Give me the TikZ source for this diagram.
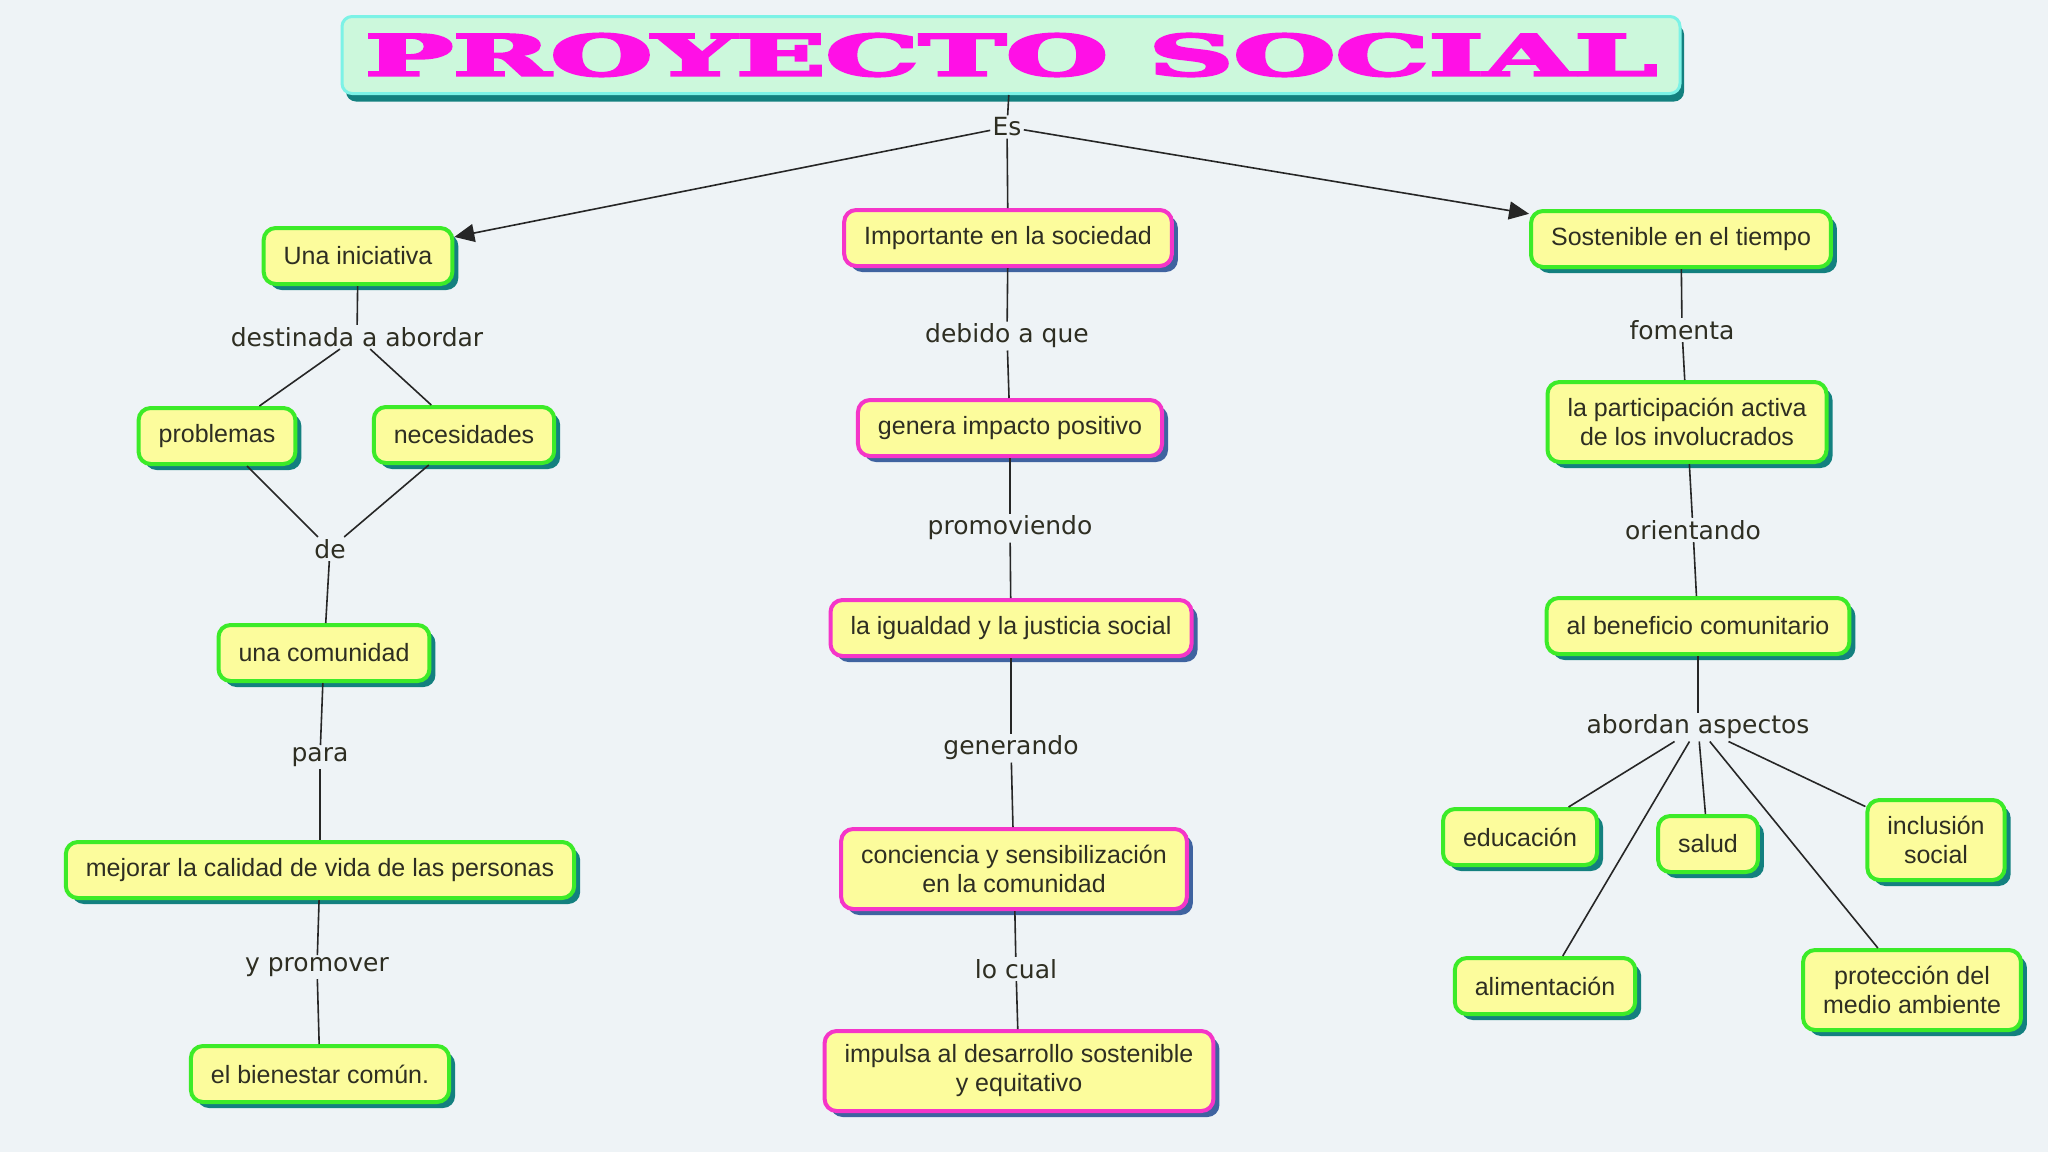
\documentclass[tikz,border=0pt]{standalone}
\usepackage{fontspec}
\usepackage{graphicx}
\usetikzlibrary{shadows,arrows.meta}
\newfontfamily\nodefont{Liberation Sans}
\newfontfamily\labelfont{DejaVu Sans}
\newfontfamily\titlefont{DejaVu Serif}[UprightFont=* Bold, FakeBold=4]
\definecolor{page-bg}{HTML}{EEF3F6}
\definecolor{box-fill}{HTML}{FCFC9C}
\definecolor{box-green}{HTML}{3CEB28}
\definecolor{box-pink}{HTML}{F535C8}
\definecolor{shade-teal}{HTML}{13807F}
\definecolor{shade-blue}{HTML}{3F63A0}
\definecolor{title-fill}{HTML}{CCF8DC}
\definecolor{title-line}{HTML}{7CF2E6}
\definecolor{title-text}{HTML}{FF10E6}
\definecolor{ink}{HTML}{2E2E22}
\tikzset{
    base-box/.style = {fill=box-fill, line width=2pt, rounded corners=6pt, inner xsep=10pt, minimum height=28pt,
        align=center, text=ink, font=\nodefont\fontsize{12.5}{14.5}\selectfont},
    green-box/.style = {base-box, draw=box-green, drop shadow={shadow xshift=3pt, shadow yshift=-3pt, fill=shade-teal, opacity=1}},
    pink-box/.style = {base-box, draw=box-pink, drop shadow={shadow xshift=3pt, shadow yshift=-3pt, fill=shade-blue, opacity=1}},
    tall/.style = {minimum height=40pt},
    title-box/.style = {fill=title-fill, draw=title-line, line width=1.5pt, rounded corners=5pt,
        drop shadow={shadow xshift=2pt, shadow yshift=-4pt, fill=shade-teal, opacity=1}},
    link-label/.style = {inner sep=1pt, text=ink, font=\labelfont\fontsize{12.5}{14}\selectfont},
    link/.style = {draw=black!85, line width=0.8pt},
}

\begin{document}
\begin{tikzpicture}[x=0.5pt, y=-0.5pt]
\fill[page-bg] (0,0) rectangle (2048,1152);
\useasboundingbox (0,0) rectangle (2048,1152);

% title
\node[title-box, minimum width=669pt, minimum height=38.5pt] (title) at (1011,55)
    {\resizebox{646pt}{21pt}{\color{title-text}\titlefont PROYECTO SOCIAL}};
\node[link-label] (es) at (1007,127) {Es};

% left branch
\node[green-box] (iniciativa) at (358,256) {Una iniciativa};
\node[link-label] (destinada) at (357,337) {destinada a abordar};
\node[green-box] (problemas) at (217,436) {problemas};
\node[green-box] (necesidades) at (464,435) {necesidades};
\node[link-label] (de) at (330,549) {de};
\node[green-box] (comunidad) at (324,653) {una comunidad};
\node[link-label] (para) at (320,757) {para};
\node[green-box] (mejorar) at (320,870) {mejorar la calidad de vida de las personas};
\node[link-label] (promover) at (317,967) {y promover};
\node[green-box] (bienestar) at (320,1074) {el bienestar común.};

% middle branch
\node[pink-box] (importante) at (1008,238) {Importante en la sociedad};
\node[link-label] (debido) at (1007,336) {debido a que};
\node[pink-box] (impacto) at (1010,428) {genera impacto positivo};
\node[link-label] (promoviendo) at (1010,528) {promoviendo};
\node[pink-box] (igualdad) at (1011,628) {la igualdad y la justicia social};
\node[link-label] (generando) at (1011,748) {generando};
\node[pink-box, tall] (conciencia) at (1014,869) {conciencia y sensibilización\\en la comunidad};
\node[link-label] (locual) at (1016,969) {lo cual};
\node[pink-box, tall] (impulsa) at (1019,1071) {impulsa al desarrollo sostenible\\y equitativo};

% right branch
\node[green-box] (sostenible) at (1681,239) {Sostenible en el tiempo};
\node[link-label] (fomenta) at (1682,330) {fomenta};
\node[green-box, tall] (participacion) at (1687,422) {la participación activa\\de los involucrados};
\node[link-label] (orientando) at (1693,530) {orientando};
\node[green-box] (beneficio) at (1698,626) {al beneficio comunitario};
\node[link-label] (abordan) at (1698,727) {abordan aspectos};
\node[green-box] (educacion) at (1520,837) {educación};
\node[green-box] (salud) at (1708,844) {salud};
\node[green-box, tall] (inclusion) at (1936,840) {inclusión\\social};
\node[green-box] (alimentacion) at (1545,986) {alimentación};
\node[green-box, tall] (proteccion) at (1912,990) {protección del\\medio ambiente};

% connectors
\draw[link] (title) -- (es);
\draw[link, -{Triangle[length=10pt, width=9pt]}] (es) -- (iniciativa);
\draw[link, -{Triangle[length=10pt, width=9pt]}] (es) -- (sostenible);
\draw[link] (es) -- (importante);

\draw[link] (iniciativa) -- (destinada);
\draw[link] (destinada) -- (problemas);
\draw[link] (destinada) -- (necesidades);
\draw[link] (problemas) -- (de);
\draw[link] (necesidades) -- (de);
\draw[link] (de) -- (comunidad);
\draw[link] (comunidad) -- (para);
\draw[link] (para) -- (mejorar);
\draw[link] (mejorar) -- (promover);
\draw[link] (promover) -- (bienestar);

\draw[link] (importante) -- (debido);
\draw[link] (debido) -- (impacto);
\draw[link] (impacto) -- (promoviendo);
\draw[link] (promoviendo) -- (igualdad);
\draw[link] (igualdad) -- (generando);
\draw[link] (generando) -- (conciencia);
\draw[link] (conciencia) -- (locual);
\draw[link] (locual) -- (impulsa);

\draw[link] (sostenible) -- (fomenta);
\draw[link] (fomenta) -- (participacion);
\draw[link] (participacion) -- (orientando);
\draw[link] (orientando) -- (beneficio);
\draw[link] (beneficio) -- (abordan);
\foreach \aspect in {educacion, salud, inclusion, alimentacion, proteccion}
    \draw[link] (abordan) -- (\aspect);
\end{tikzpicture}
\end{document}
